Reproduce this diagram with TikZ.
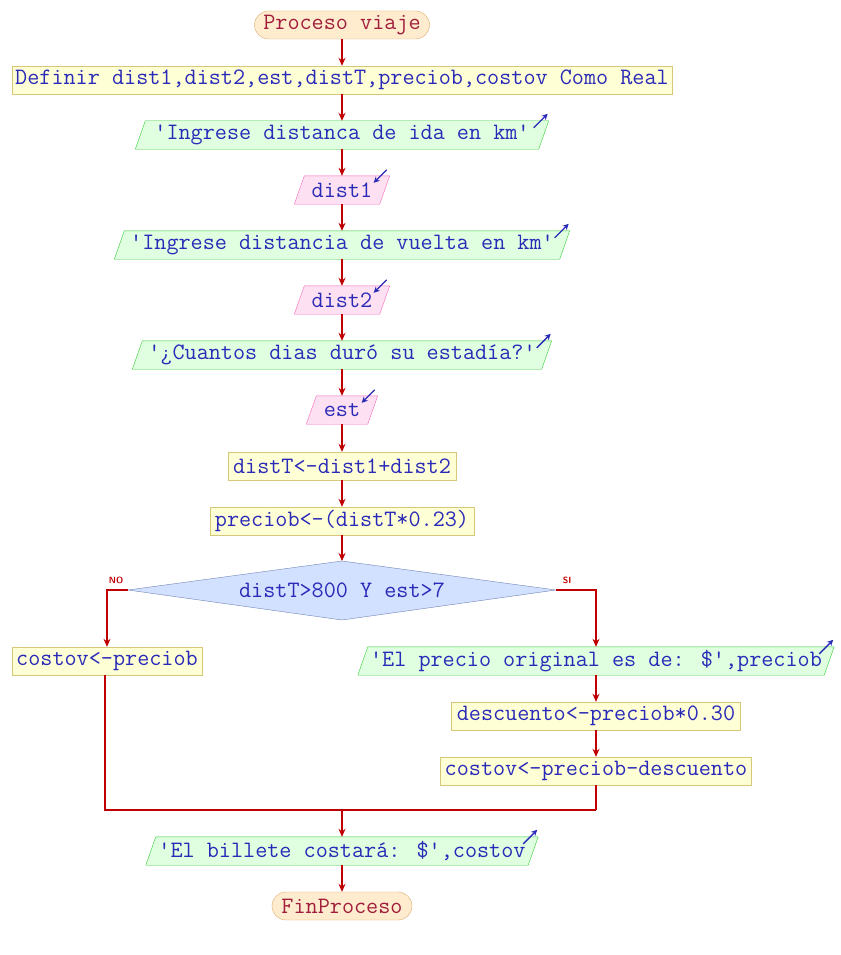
\documentclass[tikz,border=0pt]{standalone}
\usepackage{fontspec}
\usetikzlibrary{backgrounds,calc,arrows.meta}
\definecolor{txt}{HTML}{2A2AB8}
\definecolor{ln}{HTML}{C00000}
\tikzset{
 base/.style={font=\ttfamily\fontsize{23.5}{23.5}\selectfont,text=txt,inner sep=0pt,minimum height=28pt},
 asg/.style={base,draw={rgb,255:red,214;green,200;blue,120},fill={rgb,255:red,255;green,255;blue,214}},
 term/.style={base,text={rgb,255:red,160;green,30;blue,60},draw={rgb,255:red,220;green,170;blue,110},fill={rgb,255:red,255;green,236;blue,206},rounded corners=14pt},
 outp/.style={base},
 conn/.style={ln,line width=1.2pt,-{Stealth[length=8pt,width=7pt]}},
 plain/.style={ln,line width=1.2pt},
 icon/.style={txt,line width=1.4pt,-{Stealth[length=6pt,width=6pt]}},
}
\newcommand{\mypara}[3]{%
 \begin{scope}[on background layer]
 \draw[#2,fill=#3] ($(#1.south west)+(-5,0)$) -- ($(#1.south east)+(-5,0)$) -- ($(#1.north east)+(5,0)$) -- ($(#1.north west)+(5,0)$) -- cycle;
 \end{scope}}
\begin{document}
\begin{tikzpicture}[x=1pt,y=-1pt]
\useasboundingbox (0,0) rectangle (840,955);
\colorlet{og}{green!60!gray}
\node[term,minimum width=175pt] (start) at (342,25) {Proceso viaje};
\node[asg,minimum width=660pt] (def) at (342,80) {Definir dist1,dist2,est,distT,preciob,costov Como Real};
\node[outp,minimum width=403pt] (o1) at (342,135) {'Ingrese distanca de ida en km'};
\node[outp,minimum width=85pt] (i1) at (342,190) {dist1};
\node[outp,minimum width=445pt] (o2) at (342,245) {'Ingrese distancia de vuelta en km'};
\node[outp,minimum width=85pt] (i2) at (342,300) {dist2};
\node[outp,minimum width=409pt] (o3) at (342,355) {'¿Cuantos dias duró su estadía?'};
\node[outp,minimum width=61pt] (i3) at (342,410) {est};
\node[asg,minimum width=228pt] (a1) at (342,466) {distT<-dist1+dist2};
\node[asg,minimum width=264pt] (a2) at (342,521) {preciob<-(distT*0.23)};
\node[base,minimum height=0pt] (dtxt) at (342,590) {distT>800 Y est>7};
\begin{scope}[on background layer]
\draw[fill={rgb,255:red,210;green,225;blue,255},draw={rgb,255:red,110;green,130;blue,180}] (128,590) coordinate (dl) -- (342,561) -- (556,590) coordinate (dr) -- (342,620) -- cycle;
\end{scope}
\node[ln,font=\sffamily\bfseries\fontsize{9}{9}\selectfont] (no) at (116,580) {NO};
\node[ln,font=\sffamily\bfseries\fontsize{9}{9}\selectfont] (si) at (567,580) {SI};
\node[asg,minimum width=190pt] (cl) at (107,661) {costov<-preciob};
\node[outp,minimum width=466pt] (o4) at (596,661) {'El precio original es de: \$',preciob};
\node[asg,minimum width=289pt] (a3) at (596,716) {descuento<-preciob*0.30};
\node[asg,minimum width=311pt] (a4) at (596,771) {costov<-preciob-descuento};
\node[outp,minimum width=382pt] (o5) at (342,851) {'El billete costará: \$',costov};
\node[term,minimum width=140pt] (fin) at (342,906) {FinProceso};
\foreach \n in {o1,o2,o3,o4,o5}{\mypara{\n}{og}{green!12}}
\foreach \n in {i1,i2,i3}{\mypara{\n}{magenta!60}{magenta!12}}
\foreach \n in {o1,o2,o3,o4,o5}{\draw[icon] ($(\n.north east)+(-10,7)$) -- +(14,-14);}
\foreach \n in {i1,i2,i3}{\draw[icon] ($(\n.north east)+(2,-6)$) -- +(-13,13);}
\draw[conn] (start) -- (def);
\draw[conn] (def) -- (o1);
\draw[conn] (o1) -- (i1);
\draw[conn] (i1) -- (o2);
\draw[conn] (o2) -- (i2);
\draw[conn] (i2) -- (o3);
\draw[conn] (o3) -- (i3);
\draw[conn] (i3) -- (a1);
\draw[conn] (a1) -- (a2);
\draw[conn] (a2) -- (342,561);
\draw[conn] (dl) -| (cl);
\draw[conn] (dr) -| (o4);
\draw[conn] (o4) -- (a3);
\draw[conn] (a3) -- (a4);
\coordinate (ml) at (105,810);
\coordinate (mr) at (596,810);
\coordinate (mm) at (342,810);
\draw[plain] (cl.south -| ml) -- (ml) -- (mr);
\draw[plain] (a4) -- (mr);
\draw[conn] (mm) -- (o5);
\draw[conn] (o5) -- (fin);
\end{tikzpicture}
\end{document}
